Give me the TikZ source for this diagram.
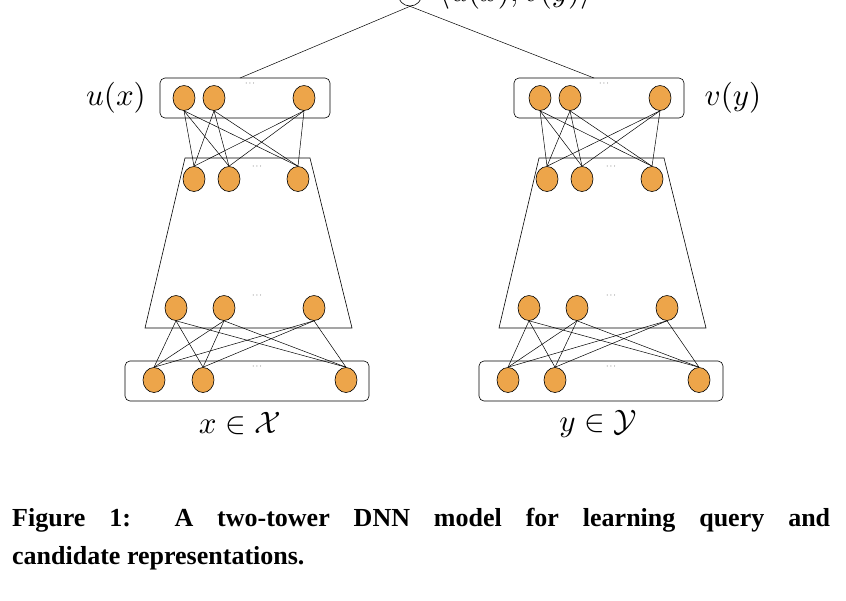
\documentclass[tikz,border=0pt]{standalone}
\usepackage{fontspec}
\usepackage{graphicx}
\newfontfamily\capfont{Liberation Serif}
\usetikzlibrary{shapes.geometric}
\definecolor{org}{HTML}{EDA54A}
\newcommand{\mylbl}[1]{\scalebox{3.1}{$#1$}}
\begin{document}
\begin{tikzpicture}[x=1pt,y=-1pt,
  nd/.style={ellipse,draw,fill=org,minimum width=22pt,minimum height=25pt,inner sep=0pt,line width=0.6pt},
  bx/.style={draw,rounded corners=5pt,line width=0.6pt},
  ed/.style={line width=0.5pt},
  dt/.style={font=\fontsize{8}{8}\selectfont,inner sep=0pt},
  lb/.style={inner sep=0pt}]
\useasboundingbox (0,0) rectangle (846,600);
\clip (0,0) rectangle (846,600);
\node[draw,circle,minimum size=24pt,inner sep=0pt,line width=0.6pt] (s) at (410,-6) {};
\node[lb,anchor=west] (sl) at (438,-6) {\mylbl{\langle u(x), v(y)\rangle}};
\foreach \side/\o in {L/0,R/354}{
  \draw[bx] (160+\o,78) rectangle (330+\o,118);
  \coordinate (\side top) at (240+\o,78);
  \draw[line width=0.6pt] (185+\o,158) -- (310+\o,158) -- (352+\o,328) -- (145+\o,328) -- cycle;
  \draw[bx] (125+\o,361) rectangle (369+\o,401);
}
\foreach \n/\x in {1/184,2/214,3/304}{\node[nd] (La\n) at (\x,98) {};}
\foreach \n/\x in {1/194,2/229,3/298}{\node[nd] (Lb\n) at (\x,179) {};}
\foreach \n/\x in {1/176,2/224,3/314}{\node[nd] (Lc\n) at (\x,308) {};}
\foreach \n/\x in {1/154,2/203,3/346}{\node[nd] (Ld\n) at (\x,380) {};}
\foreach \n/\x in {1/540,2/570,3/660}{\node[nd] (Ra\n) at (\x,98) {};}
\foreach \n/\x in {1/547,2/582,3/652}{\node[nd] (Rb\n) at (\x,179) {};}
\foreach \n/\x in {1/529,2/577,3/667}{\node[nd] (Rc\n) at (\x,308) {};}
\foreach \n/\x in {1/508,2/555,3/699}{\node[nd] (Rd\n) at (\x,380) {};}
\foreach \s in {L,R}{
  \foreach \i in {1,2,3}{\foreach \j in {1,2,3}{
    \draw[ed] (\s a\i.south) -- (\s b\j.north);
    \draw[ed] (\s c\i.south) -- (\s d\j.north);
  }}
}
\foreach \o in {0,354}{
  \node[dt] at (250+\o,84) {$\cdots$};
  \node[dt] at (257+\o,167) {$\cdots$};
  \node[dt] at (257+\o,296) {$\cdots$};
  \node[dt] at (257+\o,367) {$\cdots$};
}
\draw[ed] (s.south) -- (Ltop);
\draw[ed] (s.south) -- (Rtop);
\node[lb] (ux) at (116,98) {\mylbl{u(x)}};
\node[lb] (vy) at (733,98) {\mylbl{v(y)}};
\node[lb] (xl) at (240,424) {\mylbl{x\in\mathcal{X}}};
\node[lb] (yl) at (598,424) {\mylbl{y\in\mathcal{Y}}};
\node[anchor=north west,inner sep=0pt,text width=818pt,align=justify,font=\capfont\bfseries\fontsize{26}{38}\selectfont] (cap) at (12,508)
 {Figure 1: A two-tower DNN model for learning query and\linebreak candidate representations.};
\end{tikzpicture}
\end{document}
